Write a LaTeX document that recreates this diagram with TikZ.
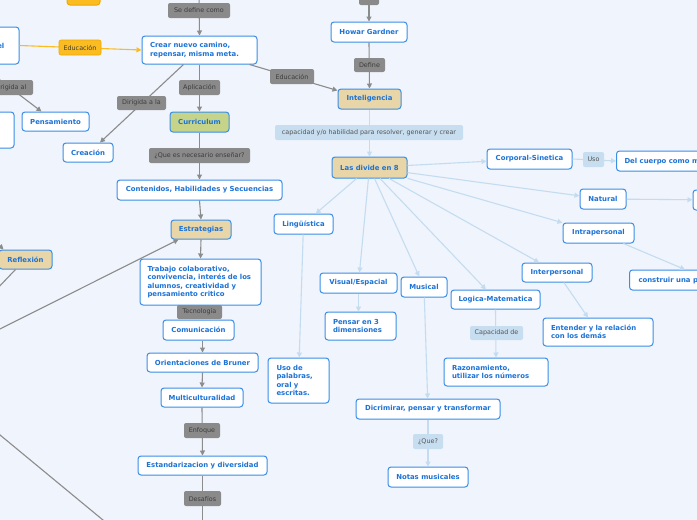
\documentclass[tikz,border=0pt]{standalone}
\usepackage{fontspec}
\newfontfamily\dvs{DejaVu Sans}
\usetikzlibrary{arrows.meta}
\definecolor{bgc}{HTML}{F0F4FC}
\definecolor{bord}{HTML}{3A8EE6}
\definecolor{txt}{HTML}{1C72D6}
\definecolor{tanc}{HTML}{E8D6A8}
\definecolor{grnc}{HTML}{C6D48A}
\definecolor{orc}{HTML}{FBBC22}
\definecolor{orb}{HTML}{EFA800}
\definecolor{glab}{HTML}{8A8A8A}
\definecolor{gtxt}{HTML}{3C3C3C}
\definecolor{blab}{HTML}{C7DEF0}
\definecolor{btxt}{HTML}{555555}
\definecolor{gline}{HTML}{8C8C8C}
\definecolor{bline}{HTML}{C4DCF0}
\tikzset{
  box/.style={draw=bord, fill=white, rounded corners=3pt, line width=1pt, text=txt,
    font=\dvs\bfseries\fontsize{6.9}{8.4}\selectfont, inner sep=0pt, minimum height=19pt},
  tanbox/.style={box, fill=tanc},
  grnbox/.style={box, fill=grnc},
  mbox/.style={box, align=left, inner xsep=8pt},
  lbox/.style={box, inner xsep=8pt, anchor=west},
  glbl/.style={fill=glab, rounded corners=2pt, text=gtxt, font=\dvs\fontsize{6.4}{7.5}\selectfont,
    inner sep=0pt, minimum height=15pt},
  blbl/.style={glbl, fill=blab, text=btxt},
  olbl/.style={glbl, fill=orc, draw=orb, line width=0.6pt, text=gtxt},
  ga/.style={draw=gline, line width=1.1pt, -{Triangle[length=5pt,width=5pt]}},
  gl/.style={draw=gline, line width=1.1pt},
  ba/.style={draw=bline, line width=1.1pt, -{Triangle[length=5pt,width=5pt]}},
  oa/.style={draw=orc, line width=1.1pt, -{Triangle[length=5pt,width=5pt]}},
}
\begin{document}
\begin{tikzpicture}[x=1pt,y=-1pt]
\useasboundingbox (0,0) rectangle (697,520);
\clip (0,0) rectangle (697,520);
\fill[bgc] (0,0) rectangle (697,520);

% ---------- boxes ----------
\node[box, fill=orc, draw=orb, minimum width=33pt, minimum height=15pt] (orangeTop) at (83.5,-2.5) {};
\node[mbox, text width=99pt, minimum height=28pt] (crear) at (199.5,50) {Crear nuevo camino,\\repensar, misma meta.};
\node[box, minimum width=79pt, minimum height=37pt] (elbox) at (-20.5,45.5) {};
\node[font=\dvs\bfseries\fontsize{6.9}{8.4}\selectfont, text=txt, inner sep=0pt, anchor=east] (eltext) at (4.5,45.5) {el};
\node[box, minimum width=67pt] (pens) at (55.5,121.5) {Pensamiento};
\node[box, minimum width=64pt, minimum height=36pt] (leftbox) at (-18,130) {};
\node[box, minimum width=50pt] (creacion) at (88,152.5) {Creación};
\node[grnbox, minimum width=59pt, minimum height=20pt] (curric) at (199.5,122) {Curriculum};
\node[box, minimum width=165pt, minimum height=20pt] (conten) at (199.5,190) {Contenidos, Habilidades y Secuencias};
\node[tanbox, minimum width=60pt] (estr) at (201,229.5) {Estrategias};
\node[mbox, text width=106pt, inner xsep=7.5pt, minimum height=46pt] (trabajo) at (200.5,282) {Trabajo colaborativo,\\convivencia, interés de los\\alumnos, creatividad y\\pensamiento critico};
\node[box, minimum width=71pt, minimum height=20pt] (comun) at (198.5,330) {Comunicación};
\node[box, minimum width=111pt] (orient) at (202.5,362.5) {Orientaciones de Bruner};
\node[box, minimum width=82pt] (multi) at (202,397.5) {Multiculturalidad};
\node[box, minimum width=129pt] (estand) at (202.5,465.5) {Estandarizacion y diversidad};
\node[tanbox, minimum width=53pt] (refl) at (25.5,259.5) {Reflexión};

\node[glbl, minimum width=20pt] (grayTop) at (369,-2.5) {};
\node[box, minimum width=76pt, minimum height=20pt] (howar) at (369,32) {Howar Gardner};
\node[tanbox, minimum width=63pt, minimum height=20pt] (intel) at (369.5,99) {Inteligencia};
\node[tanbox, minimum width=75pt, minimum height=21pt] (lasdiv) at (369.5,167.5) {Las divide en 8};
\node[box, minimum width=85pt, minimum height=20pt] (corporal) at (529.5,159) {Corporal-Sinetica};
\node[lbox, minimum height=20pt] (delcuerpo) at (616,161) {Del cuerpo como medio de expresión};
\node[box, minimum width=46pt, minimum height=20pt] (natural) at (603,199) {Natural};
\node[box, minimum width=67pt, minimum height=20pt] (natright) at (726.5,200) {};
\node[box, minimum width=71pt, minimum height=20pt] (intra) at (598.5,233) {Intrapersonal};
\node[lbox, inner xsep=9pt, minimum height=20pt] (construir) at (629,280) {construir una percepción precisa de sí mismo};
\node[box, minimum width=59pt, minimum height=20pt] (ling) at (303.5,224) {Lingüística};
\node[mbox, text width=44pt, inner xsep=8.5pt, minimum height=45pt] (usopal) at (298.5,380.5) {Uso de\\palabras,\\oral y\\escritas.};
\node[box, minimum width=77pt, minimum height=20pt] (visual) at (358.5,283) {Visual/Espacial};
\node[mbox, text width=55pt, minimum height=28pt] (pensar) at (360.5,326) {Pensar en 3\\dimensiones};
\node[box, minimum width=46pt, minimum height=20pt] (musical) at (424,287) {Musical};
\node[box, minimum width=89pt] (logica) at (495.5,299.5) {Logica-Matematica};
\node[mbox, text width=88pt, minimum height=28pt] (razon) at (496,372) {Razonamiento,\\utilizar los números};
\node[box, minimum width=70pt] (inter) at (557,272.5) {Interpersonal};
\node[mbox, text width=94pt, minimum height=28pt] (entender) at (598,332) {Entender y la relación\\con los demás};
\node[box, minimum width=144pt, minimum height=20pt] (dicrim) at (428,409) {Dicrimirar, pensar y transformar};
\node[box, minimum width=80pt, minimum height=20pt] (notas) at (428,477) {Notas musicales};

% ---------- free ends ----------
\coordinate (ctop) at (199,-5);
\coordinate (cbot) at (202.5,526);
\coordinate (cl1) at (-10,334);
\coordinate (cl2) at (-12,234);
\coordinate (cl3) at (-6,292);
\coordinate (cl4) at (-6,430);
\coordinate (cl5) at (109,525);

% ---------- connectors ----------
\draw[ga] (ctop) -- (crear.north);
\draw[oa] (elbox.east) -- (crear.west);
\draw[ga] (elbox.south) -- ([xshift=-14pt]pens.north);
\draw[ga] ([xshift=-16pt]crear.south) -- ([xshift=12pt]creacion.north);
\draw[ga] (crear.south) -- (curric.north);
\draw[ga] ([xshift=-8pt]crear.south east) -- ([yshift=-2pt]intel.north west);
\draw[ga] (curric.south) -- (conten.north);
\draw[ga] (conten.south) -- (estr.north);
\draw[ga] (estr.south) -- (trabajo.north);
\draw[ga] (orient.north |- comun.south) -- (orient.north);
\draw[ga] (orient.south) -- (multi.north);
\draw[ga] (multi.south) -- (estand.north);
\draw[ga] (estand.south) -- (cbot);
\draw[ga] (cl1) -- ([xshift=8pt]estr.south west);
\draw[ga] (cl2) -- ([xshift=5pt]refl.north west);
\draw[gl] ([xshift=-10pt]refl.south) -- (cl3);
\draw[gl] (cl4) -- (cl5);

\draw[ga] (grayTop) -- (howar.north);
\draw[ga] (howar.south) -- (intel.north);
\draw[ba] (intel.south) -- (lasdiv.north);
\draw[ba] (lasdiv) -- (corporal);
\draw[ba] (lasdiv) -- (natural);
\draw[ba] (lasdiv) -- (intra);
\draw[ba] (lasdiv) -- (inter);
\draw[ba] (lasdiv) -- (logica);
\draw[ba] (lasdiv) -- (musical);
\draw[ba] (lasdiv) -- (visual);
\draw[ba] (lasdiv) -- (ling);
\draw[ba] (corporal.east) -- (delcuerpo.west);
\draw[ba] (natural) -- (natright);
\draw[ba] (intra) -- ([xshift=56pt]construir.north west);
\draw[ba] (inter) -- (entender);
\draw[ba] (logica.south) -- (razon.north);
\draw[ba] (musical) -- (dicrim);
\draw[ba] (dicrim.south) -- (notas.north);
\draw[ba] (visual.south) -- (pensar.north -| visual.south);
\draw[ba] (ling) -- (usopal);

% ---------- labels ----------
\node[glbl, minimum width=62pt] (lSeDef) at (199,10.5) {Se define como};
\node[olbl, minimum width=42pt] (lEduO) at (80,47.5) {Educación};
\node[glbl, minimum width=46pt] (lDirAl) at (10,87.5) {Dirigida al};
\node[glbl, minimum width=49pt, minimum height=14pt] (lDirALa) at (141.5,103) {Dirigida a la};
\node[glbl, minimum width=41pt] (lAplic) at (199.5,87.5) {Aplicación};
\node[glbl, minimum width=101pt] (lQue) at (199.5,155.5) {¿Que es necesario enseñar?};
\node[glbl, minimum width=45pt, minimum height=14pt] (lTecno) at (199.5,312) {Tecnología};
\node[glbl, minimum width=36pt] (lEnfoque) at (202,430.5) {Enfoque};
\node[glbl, minimum width=37pt] (lDesaf) at (202.5,498.5) {Desafíos};
\node[glbl, minimum width=31pt, minimum height=14pt] (lDefine) at (369.5,65) {Define};
\node[glbl, minimum width=44pt] (lEduG) at (292,76.5) {Educación};
\node[blbl, minimum width=188pt] (lCapac) at (369,132.5) {capacidad y/o habilidad para resolver, generar y crear};
\node[blbl, minimum width=21pt] (lUso) at (593.5,159.5) {Uso};
\node[blbl, minimum width=53pt, minimum height=14pt] (lCapDe) at (496.5,333) {Capacidad de};
\node[blbl, minimum width=30pt] (lQueQ) at (428,441.5) {¿Que?};
\end{tikzpicture}
\end{document}
